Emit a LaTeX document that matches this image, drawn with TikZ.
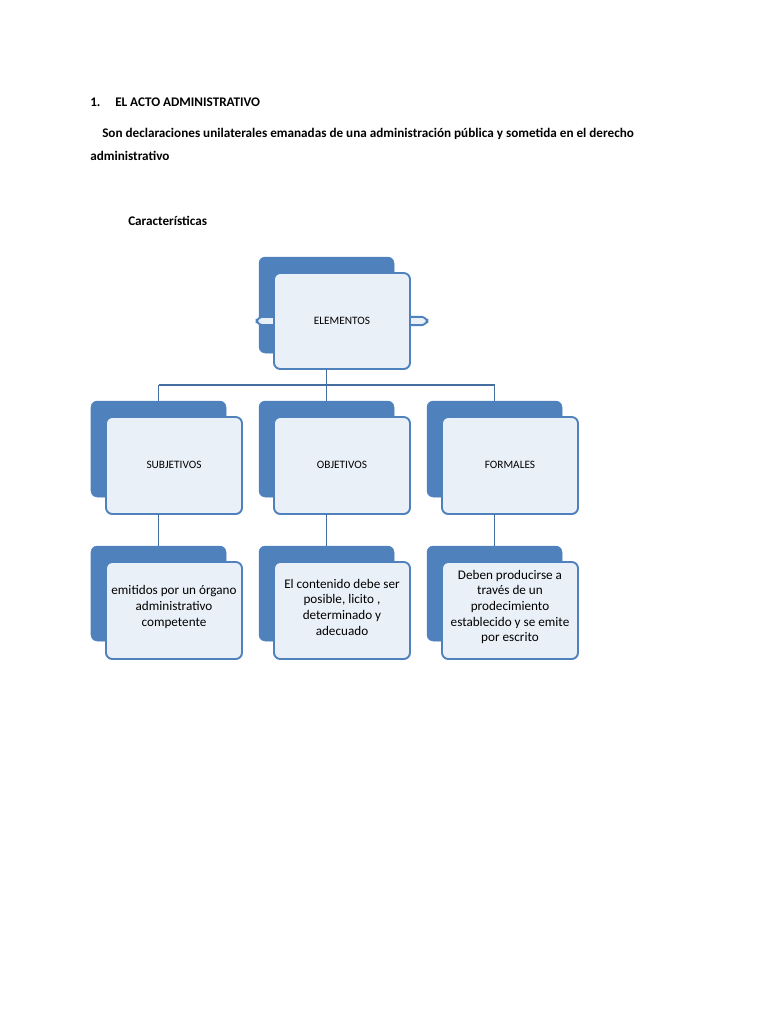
\documentclass[tikz,border=0pt]{standalone}
\usepackage{fontspec}
\setmainfont{Carlito}
\definecolor{bl}{RGB}{79,129,189}
\definecolor{lt}{RGB}{234,240,248}
\begin{document}
\begin{tikzpicture}[x=0.797pt,y=-0.797pt,
  back/.style={fill=bl,draw=bl,rounded corners=5pt},
  front/.style={fill=lt,draw=bl,line width=1.5pt,rounded corners=5pt,align=center,font=\fontsize{9}{11}\selectfont},
  ftext/.style={align=center,font=\fontsize{10.5}{12.5}\selectfont},
  conn/.style={draw=bl!85!black,line width=1.5pt},
  hd/.style={anchor=west,font=\bfseries\fontsize{10.5}{12}\selectfont,inner sep=0}]
\useasboundingbox (0,0) rectangle (768,1024);
\node[hd] (h1) at (90,102) {1.};
\node[hd] (h2) at (115,102) {EL ACTO ADMINISTRATIVO};
\node[hd] (p1) at (102,134) {Son declaraciones unilaterales emanadas de una administración pública y sometida en el derecho};
\node[hd] (p2) at (90,156) {administrativo};
\node[hd] (car) at (128,221) {Características};
% top
\draw[back] (259,257) rectangle (394,353);
\node[front,minimum width=136/0.797*0.797pt] (el) at (342,321) {};
\draw[front] (274,273) rectangle (410,369);
\node (elt) at (342,321) {\fontsize{9}{11}\selectfont ELEMENTOS};
\coordinate (tb) at (326.5,369);
\coordinate (hl) at (158.5,385);
\coordinate (hr) at (494.5,385);
\draw[conn] (tb) -- (326.5,385);
\draw[conn] (hl) -- (hr);
\foreach \bx/\name/\lbl/\txt in {91/s/SUBJETIVOS/{emitidos por un órgano\\administrativo\\competente},259/o/OBJETIVOS/{El contenido debe ser\\posible, licito ,\\determinado y\\adecuado},427/f/FORMALES/{Deben producirse a\\través de un\\prodecimiento\\establecido  y se emite\\por escrito}}{
  \coordinate (\name top) at (\bx+67.5,385);
  \coordinate (\name mid) at (\bx+67.5,401);
  \draw[conn] (\name top) -- (\name mid);
  \draw[back] (\bx,401) rectangle ++(135,96);
  \draw[front] (\bx+15,417) rectangle ++(136,97);
  \node (\name l) at (\bx+83,465) {\fontsize{9}{11}\selectfont \lbl};
  \coordinate (\name b1) at (\bx+67.5,514);
  \coordinate (\name b2) at (\bx+67.5,546);
  \draw[conn] (\name b1) -- (\name b2);
  \draw[back] (\bx,546) rectangle ++(135,95);
  \draw[front] (\bx+15,562) rectangle ++(136,97);
  \node[ftext] (\name t) at (\bx+83,607) {\txt};
}
\end{tikzpicture}
\end{document}
